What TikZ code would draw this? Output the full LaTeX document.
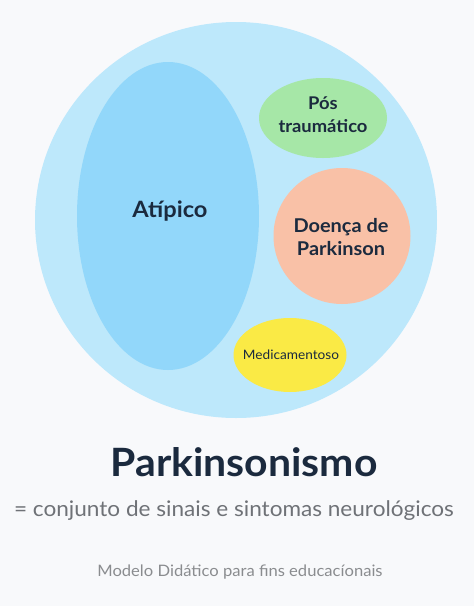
\documentclass[tikz,border=0pt]{standalone}
\usepackage{fontspec}
\setmainfont{Lato}[FakeStretch=1.05]
\usetikzlibrary{shapes.geometric}
\definecolor{bgc}{HTML}{F8F9FB}
\definecolor{outerc}{HTML}{BDE8FB}
\definecolor{atipc}{HTML}{92D7FA}
\definecolor{posc}{HTML}{A6E7A7}
\definecolor{doenc}{HTML}{F9C1A7}
\definecolor{medc}{HTML}{FAEA45}
\definecolor{navy}{HTML}{1B2A3E}
\definecolor{subc}{HTML}{6F7277}
\definecolor{footc}{HTML}{8A8C8F}
\tikzset{
  blob/.style={ellipse, draw=none, inner sep=0pt},
  lbl/.style={align=center, text=navy, inner sep=0pt},
}
\begin{document}
\begin{tikzpicture}[x=1pt,y=-1pt]
\useasboundingbox (0,0) rectangle (474,606);
\fill[bgc] (0,0) rectangle (474,606);
\node[blob, fill=outerc, minimum width=402pt, minimum height=396pt] (outer) at (236,220) {};
\node[blob, fill=atipc, minimum width=182pt, minimum height=308pt] (atip) at (168,216) {};
\node[lbl, font=\bfseries\fontsize{22.5}{25}\selectfont] (atipl) at (170,211) {Atípico};
\node[blob, fill=posc, minimum width=128pt, minimum height=80pt] (pos) at (323,118) {};
\node[lbl, font=\bfseries\fontsize{17.5}{23}\selectfont] (posl) at (323,115) {Pós\\traumático};
\node[blob, fill=doenc, minimum width=137pt, minimum height=136pt] (doen) at (342,236) {};
\node[lbl, font=\bfseries\fontsize{19}{23}\selectfont] (doenl) at (341,237) {Doença de\\Parkinson};
\node[blob, fill=medc, minimum width=113pt, minimum height=74pt] (med) at (290,355) {};
\node[lbl, font=\fontsize{13}{15}\selectfont] (medl) at (291,355) {Medicamentoso};
\node[lbl, font=\bfseries\fontsize{39}{44}\selectfont] (title) at (244,462) {Parkinsonismo};
\node[lbl, text=subc, font=\fontsize{21.5}{26}\selectfont] (sub) at (234,511) {= conjunto de sinais e sintomas neurológicos};
\node[lbl, text=footc, font=\fontsize{15.8}{18}\selectfont] (foot) at (240,572) {Modelo Didático para fins educacíonais};
\end{tikzpicture}
\end{document}
